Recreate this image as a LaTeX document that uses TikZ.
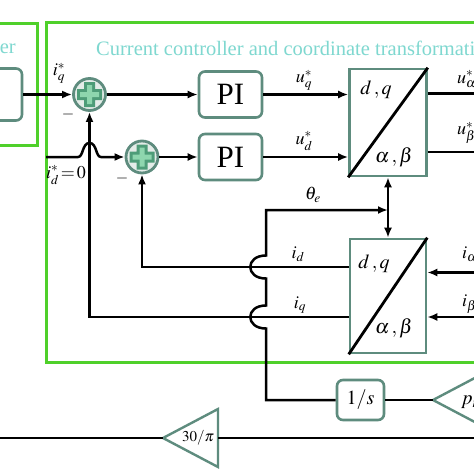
\documentclass[tikz,border=0pt]{standalone}
\usepackage{mathptmx}
\usepackage{fontspec}
\setmainfont{Liberation Serif}
\usetikzlibrary{arrows.meta,calc}
\definecolor{gbox}{HTML}{4FD02A}
\definecolor{ttl}{HTML}{7FD8D0}
\definecolor{tg}{HTML}{5E8C7E}
\definecolor{crossg}{HTML}{4E9C78}
\definecolor{crossl}{HTML}{8ED6AE}
\definecolor{sumfill}{HTML}{E4ECE8}
\begin{document}
\begin{tikzpicture}[x=1pt,y=-1pt,
  greenbox/.style={draw=gbox,line width=3pt},
  blk/.style={draw=tg,line width=2.6pt,rounded corners=6pt,fill=white,inner sep=0pt},
  tbox/.style={draw=tg,line width=2.6pt,fill=white,inner sep=0pt},
  tip/.style={-{Latex[length=10pt,width=8pt]}},
  wire/.style={line width=2.5pt},
  sig/.style={wire,tip},
  sumc/.style={circle,draw=tg,line width=2.8pt,fill=sumfill,minimum size=32pt,inner sep=0pt},
  lbl/.style={font=\fontsize{18}{20}\selectfont,inner sep=0pt},
  trf/.style={font=\fontsize{20}{22}\selectfont,inner sep=0pt},
  gain/.style={draw=tg,line width=2.4pt,fill=white},
]
\clip (0,0) rectangle (474,474);
\fill[white] (0,0) rectangle (474,474);

% green boxes
\draw[greenbox] (-20,23) rectangle (37,145);
\draw[greenbox] (46,22) rectangle (500,362);
\node[anchor=base east,text=ttl,font=\fontsize{20.5}{24}\selectfont,inner sep=0pt] (ertxt) at (16,53) {er};
\node[anchor=base west,text=ttl,font=\fontsize{20.5}{24}\selectfont,inner sep=0pt] (title) at (96,55) {Current controller and coordinate transformation};

% left block
\node[blk,minimum width=60pt,minimum height=52pt] (lb) at (-8,94.5) {};

% sums
\node[sumc] (s1) at (89.5,94.5) {};
\node[sumc] (s2) at (142,157) {};
\foreach \c in {s1,s2}{
  \path[fill=crossg,shift={(\c)}] (-5.5,-12.5) -- (5.5,-12.5) -- (5.5,-5.5) -- (12.5,-5.5) -- (12.5,5.5) -- (5.5,5.5) -- (5.5,12.5) -- (-5.5,12.5) -- (-5.5,5.5) -- (-12.5,5.5) -- (-12.5,-5.5) -- (-5.5,-5.5) -- cycle;
  \path[fill=crossl,shift={(\c)}] (-2.5,-9.5) -- (2.5,-9.5) -- (2.5,-2.5) -- (9.5,-2.5) -- (9.5,2.5) -- (2.5,2.5) -- (2.5,9.5) -- (-2.5,9.5) -- (-2.5,2.5) -- (-9.5,2.5) -- (-9.5,-2.5) -- (-2.5,-2.5) -- cycle;
}

% PI blocks
\node[blk,minimum width=63pt,minimum height=46pt,font=\fontsize{31}{33}\selectfont] (pi1) at (230.5,94.5) {PI};
\node[blk,minimum width=63pt,minimum height=46pt,font=\fontsize{31}{33}\selectfont] (pi2) at (230.5,157) {PI};

% transform blocks
\node[tbox,minimum width=77pt,minimum height=107pt] (t1) at (388,122.5) {};
\draw[wire,line width=2.8pt] (t1.south west) -- (t1.north east);
\node[trf] (t1dq) at (376,90) {$d\,,q$};
\node[trf] (t1ab) at (394,157) {$\alpha\,,\beta$};

\node[tbox,minimum width=76pt,minimum height=114pt] (t2) at (388,296) {};
\draw[wire,line width=2.8pt] (t2.south west) -- (t2.north east);
\node[trf] (t2dq) at (374,264) {$d\,,q$};
\node[trf] (t2ab) at (394,328) {$\alpha\,,\beta$};

% 1/s block
\node[blk,minimum width=47pt,minimum height=40pt,font=\fontsize{20}{22}\selectfont] (os) at (360.5,400) {$1/s$};

% forward paths
\draw[sig] (lb.east) -- (s1.west);
\draw[sig] (s1.east) -- (s1.east -| pi1.west);
\draw[sig] (pi1.east) -- (pi1.east -| t1.west);
\draw[sig] (s2.east) -- (s2.east -| pi2.west);
\draw[sig] (pi2.east) -- (pi2.east -| t1.west);

\coordinate (idin) at (46,157);
\draw[sig] (idin) -- (78,157) .. controls (83.5,157) and (82,143) .. (89.5,143) .. controls (97,143) and (95.5,157) .. (101,157) -- (s2.west);

% feedback
\coordinate (rowd) at (0,267);
\coordinate (rowq) at (0,317);
\coordinate (rowth) at (0,210);
\draw[sig] (t2.west |- rowd) -- (s2.south |- rowd) -- (s2.south);
\draw[sig] (t2.west |- rowq) -- (s1.south |- rowq) -- (s1.south);

% theta path with hops
\draw[sig] (os.west) -- (266,400) -- (266,328.5) .. controls (245,328.5) and (245,305.5) .. (266,305.5) -- (266,278.5) .. controls (245,278.5) and (245,255.5) .. (266,255.5) -- (266,210) -- (t1.south |- rowth);
\draw[wire,{Latex[length=10pt,width=8pt]}-{Latex[length=10pt,width=8pt]}] (t1.south) -- (t2.north);

% outputs / inputs at right
\coordinate (ua) at (474,93.5);
\coordinate (ub) at (474,152);
\coordinate (ia) at (474,272.5);
\coordinate (ib) at (474,317);
\draw[wire] (t1.east |- ua) -- (ua);
\draw[wire] (t1.east |- ub) -- (ub);
\draw[sig] (ia) -- (t2.east |- ia);
\draw[sig] (ib) -- (t2.east |- ib);

% labels
\node[lbl] (liq) at (59,73) {$i_q^*$};
\node[lbl,font=\fontsize{18}{20}\selectfont] (lid) at (66,175) {$i_d^*\!=\!0$};
\node[lbl,font=\fontsize{16}{16}\selectfont] (m1) at (68,114) {$-$};
\node[lbl,font=\fontsize{16}{16}\selectfont] (m2) at (122,178) {$-$};
\node[lbl] (luq) at (304,80) {$u_q^*$};
\node[lbl] (lud) at (304,141) {$u_d^*$};
\node[lbl] (lth) at (313,195) {$\theta_e$};
\node[lbl] (lid2) at (298,254) {$i_d$};
\node[lbl] (liq2) at (300,305) {$i_q$};
\node[lbl,anchor=west] (lua) at (457,79) {$u_\alpha^*$};
\node[lbl,anchor=west] (lub) at (457,133) {$u_\beta^*$};
\node[lbl,anchor=west] (lia) at (462,254) {$i_\alpha$};
\node[lbl,anchor=west] (lib) at (462,304) {$i_\beta$};

% gains
\draw[gain] (433,400) -- (488,371) -- (488,429) -- cycle;
\coordinate (ptip) at (433,400);
\node[lbl,anchor=west,font=\fontsize{20}{20}\selectfont] (lp) at (461,402) {$p_n$};
\draw[wire] (os.east) -- (ptip);

\draw[gain] (163,438) -- (218,409) -- (218,467) -- cycle;
\coordinate (g1tip) at (163,438);
\coordinate (g1base) at (218,438);
\node[lbl,font=\fontsize{15}{16}\selectfont] (g1) at (198,438) {$30/\pi$};
\coordinate (bl) at (0,438);
\coordinate (br) at (474,438);
\draw[wire] (bl) -- (g1tip);
\draw[wire] (g1base) -- (br);
\end{tikzpicture}
\end{document}
